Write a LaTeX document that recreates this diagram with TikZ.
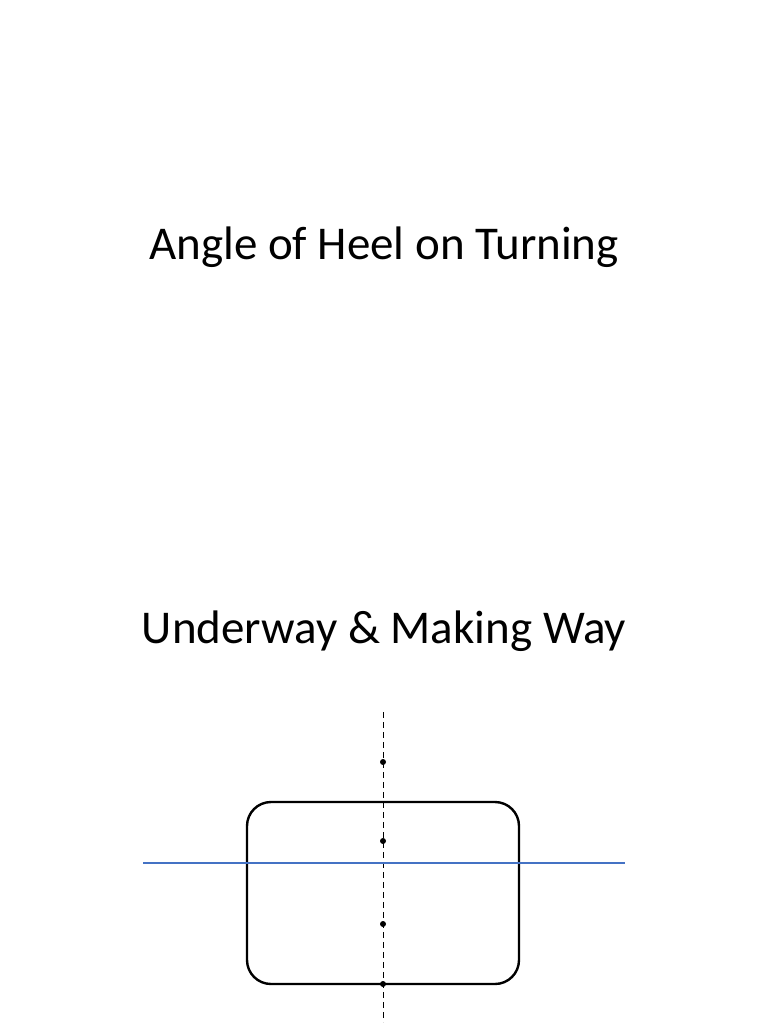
\documentclass[tikz,border=0pt]{standalone}
\usepackage{fontspec}
\setmainfont{Carlito}
\usetikzlibrary{positioning}
\definecolor{waterblue}{RGB}{68,114,196}
\tikzset{
  titletext/.style={font=\fontsize{47}{56}\selectfont,inner sep=0pt,anchor=base},
  hull/.style={draw=black,line width=2.4pt,rounded corners=24pt,minimum width=272pt,minimum height=182pt,inner sep=0pt},
  centreline/.style={draw=black,line width=1pt,dash pattern=on 6pt off 4pt},
  waterline/.style={draw=waterblue,line width=1.6pt},
  stabpoint/.style={circle,fill=black,inner sep=0pt,minimum size=6pt}
}
\begin{document}
\begin{tikzpicture}[x=1pt,y=-1pt]
  \useasboundingbox (0,0) rectangle (768,1024);
  \node[titletext] (heel) at (384,259) {Angle of Heel on Turning};
  \node[titletext] (way) at (384,643) {Underway \& Making Way};

  \node[hull] (ship) at (383,893) {};
  \coordinate (cltop) at (383,712);
  \coordinate (clbot) at (383,1022);
  \coordinate (wlport) at (143,863);
  \coordinate (wlstbd) at (625,863);

  \draw[centreline] (cltop) -- (clbot);
  \draw[waterline] (wlport) -- (wlstbd);

  \node[stabpoint] (M) at (383,762) {};
  \node[stabpoint] (G) at (383,841) {};
  \node[stabpoint] (B) at (383,924) {};
  \node[stabpoint] (K) at (383,984) {};
\end{tikzpicture}
\end{document}
